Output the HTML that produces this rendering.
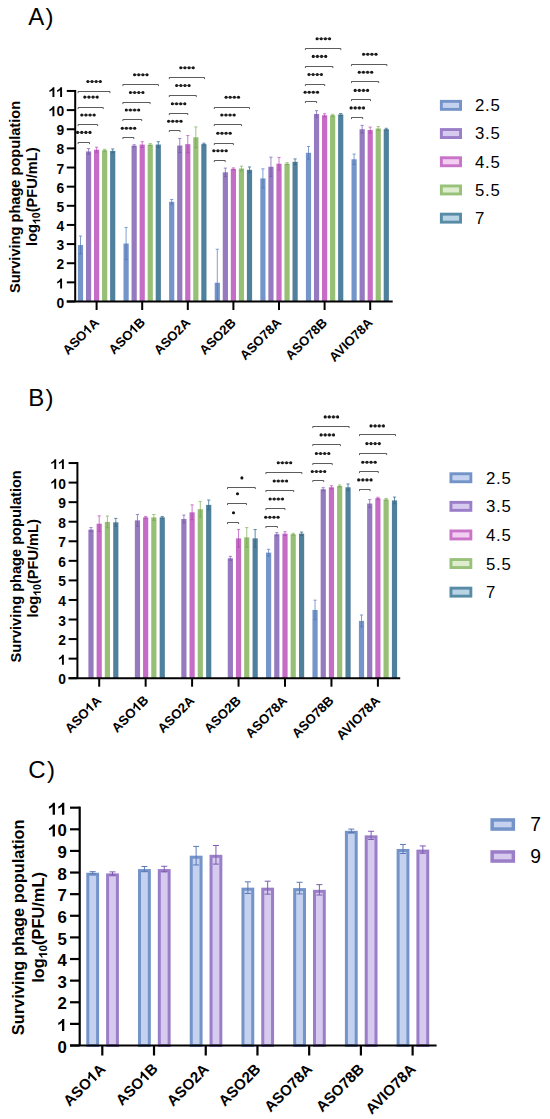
<!DOCTYPE html>
<html><head><meta charset="utf-8"><style>
html,body{margin:0;padding:0;background:#fff;}
svg{display:block;font-family:"Liberation Sans",sans-serif;}
</style></head><body>
<svg width="550" height="1119" viewBox="0 0 550 1119">
<rect width="550" height="1119" fill="#fff"/>
<text x="28.2" y="25.3" font-size="24" letter-spacing="1.4">A)</text>
<text transform="translate(20.2,197) rotate(-90)" text-anchor="middle" font-weight="bold" font-size="14.6">Surviving phage population</text>
<g transform="translate(37,196.7) rotate(-90)">
<text x="-49.23" y="0" font-weight="bold" font-size="14.6">log</text>
<path transform="translate(-27.34,3.21) scale(0.01051,-0.01051)" d="M401 0L401 716L288 716C270 668 236 622 184 578C135 537 88 508 42 490L42 363C128 395 199 437 262 490L262 0Z"/>
<text x="-21.49" y="3.21" font-weight="bold" font-size="10.51">0</text>
<text x="-15.65" y="0" font-weight="bold" font-size="14.6">(PFU/mL)</text>
</g>
<rect x="77.9" y="245.04" width="5.2" height="56.46" fill="#7395c9"/>
<path d="M80.5 236.04V245.04M78.9 236.04H82.1" stroke="#7395c9" stroke-width="0.9" fill="none"/>
<path d="M80.5 245.04V254.03M78.9 254.03H82.1" stroke="#5b79b8" stroke-width="0.9" fill="none"/>
<rect x="85.95" y="151.44" width="5.2" height="150.06" fill="#957abf"/>
<path d="M88.55 148.57V151.44M86.95 148.57H90.15" stroke="#957abf" stroke-width="0.9" fill="none"/>
<path d="M88.55 151.44V154.31M86.95 154.31H90.15" stroke="#7d5cb0" stroke-width="0.9" fill="none"/>
<rect x="94" y="149.72" width="5.2" height="151.78" fill="#c56dc6"/>
<path d="M96.6 147.23V149.72M95 147.23H98.2" stroke="#c56dc6" stroke-width="0.9" fill="none"/>
<path d="M96.6 149.72V152.21M95 152.21H98.2" stroke="#b04db3" stroke-width="0.9" fill="none"/>
<rect x="102.05" y="150.29" width="5.2" height="151.21" fill="#97c076"/>
<path d="M104.65 149.34V150.29M103.05 149.34H106.25" stroke="#97c076" stroke-width="0.9" fill="none"/>
<path d="M104.65 150.29V151.25M103.05 151.25H106.25" stroke="#7aa85a" stroke-width="0.9" fill="none"/>
<rect x="110.1" y="150.87" width="5.2" height="150.63" fill="#50819c"/>
<path d="M112.7 148.95V150.87M111.1 148.95H114.3" stroke="#50819c" stroke-width="0.9" fill="none"/>
<path d="M112.7 150.87V152.78M111.1 152.78H114.3" stroke="#3d6a87" stroke-width="0.9" fill="none"/>
<rect x="123.5" y="243.51" width="5.2" height="57.99" fill="#7395c9"/>
<path d="M126.1 227.43V243.51M124.5 227.43H127.7" stroke="#7395c9" stroke-width="0.9" fill="none"/>
<path d="M126.1 243.51V259.58M124.5 259.58H127.7" stroke="#5b79b8" stroke-width="0.9" fill="none"/>
<rect x="131.55" y="145.7" width="5.2" height="155.8" fill="#957abf"/>
<path d="M134.15 144.74V145.7M132.55 144.74H135.75" stroke="#957abf" stroke-width="0.9" fill="none"/>
<path d="M134.15 145.7V146.66M132.55 146.66H135.75" stroke="#7d5cb0" stroke-width="0.9" fill="none"/>
<rect x="139.6" y="144.55" width="5.2" height="156.95" fill="#c56dc6"/>
<path d="M142.2 141.68V144.55M140.6 141.68H143.8" stroke="#c56dc6" stroke-width="0.9" fill="none"/>
<path d="M142.2 144.55V147.42M140.6 147.42H143.8" stroke="#b04db3" stroke-width="0.9" fill="none"/>
<rect x="147.65" y="144.55" width="5.2" height="156.95" fill="#97c076"/>
<path d="M150.25 143.6V144.55M148.65 143.6H151.85" stroke="#97c076" stroke-width="0.9" fill="none"/>
<path d="M150.25 144.55V145.51M148.65 145.51H151.85" stroke="#7aa85a" stroke-width="0.9" fill="none"/>
<rect x="155.7" y="144.55" width="5.2" height="156.95" fill="#50819c"/>
<path d="M158.3 141.68V144.55M156.7 141.68H159.9" stroke="#50819c" stroke-width="0.9" fill="none"/>
<path d="M158.3 144.55V147.42M156.7 147.42H159.9" stroke="#3d6a87" stroke-width="0.9" fill="none"/>
<rect x="169.1" y="201.78" width="5.2" height="99.72" fill="#7395c9"/>
<path d="M171.7 199.48V201.78M170.1 199.48H173.3" stroke="#7395c9" stroke-width="0.9" fill="none"/>
<path d="M171.7 201.78V204.08M170.1 204.08H173.3" stroke="#5b79b8" stroke-width="0.9" fill="none"/>
<rect x="177.15" y="145.51" width="5.2" height="155.99" fill="#957abf"/>
<path d="M179.75 138.43V145.51M178.15 138.43H181.35" stroke="#957abf" stroke-width="0.9" fill="none"/>
<path d="M179.75 145.51V152.59M178.15 152.59H181.35" stroke="#7d5cb0" stroke-width="0.9" fill="none"/>
<rect x="185.2" y="144.17" width="5.2" height="157.33" fill="#c56dc6"/>
<path d="M187.8 135.56V144.17M186.2 135.56H189.4" stroke="#c56dc6" stroke-width="0.9" fill="none"/>
<path d="M187.8 144.17V152.78M186.2 152.78H189.4" stroke="#b04db3" stroke-width="0.9" fill="none"/>
<rect x="193.25" y="137.28" width="5.2" height="164.22" fill="#97c076"/>
<path d="M195.85 126.94V137.28M194.25 126.94H197.45" stroke="#97c076" stroke-width="0.9" fill="none"/>
<path d="M195.85 137.28V147.61M194.25 147.61H197.45" stroke="#7aa85a" stroke-width="0.9" fill="none"/>
<rect x="201.3" y="144.17" width="5.2" height="157.33" fill="#50819c"/>
<path d="M203.9 143.21V144.17M202.3 143.21H205.5" stroke="#50819c" stroke-width="0.9" fill="none"/>
<path d="M203.9 144.17V145.13M202.3 145.13H205.5" stroke="#3d6a87" stroke-width="0.9" fill="none"/>
<rect x="214.7" y="282.74" width="5.2" height="18.76" fill="#7395c9"/>
<path d="M217.3 249.25V282.74M215.7 249.25H218.9" stroke="#7395c9" stroke-width="0.9" fill="none"/>
<path d="M217.3 282.74V300.5M215.7 300.5H218.9" stroke="#5b79b8" stroke-width="0.9" fill="none"/>
<rect x="222.75" y="172.31" width="5.2" height="129.19" fill="#957abf"/>
<path d="M225.35 168.09V172.31M223.75 168.09H226.95" stroke="#957abf" stroke-width="0.9" fill="none"/>
<path d="M225.35 172.31V176.52M223.75 176.52H226.95" stroke="#7d5cb0" stroke-width="0.9" fill="none"/>
<rect x="230.8" y="168.86" width="5.2" height="132.64" fill="#c56dc6"/>
<path d="M233.4 167.9V168.86M231.8 167.9H235" stroke="#c56dc6" stroke-width="0.9" fill="none"/>
<path d="M233.4 168.86V169.82M231.8 169.82H235" stroke="#b04db3" stroke-width="0.9" fill="none"/>
<rect x="238.85" y="168.48" width="5.2" height="133.02" fill="#97c076"/>
<path d="M241.45 166.18V168.48M239.85 166.18H243.05" stroke="#97c076" stroke-width="0.9" fill="none"/>
<path d="M241.45 168.48V170.77M239.85 170.77H243.05" stroke="#7aa85a" stroke-width="0.9" fill="none"/>
<rect x="246.9" y="169.82" width="5.2" height="131.68" fill="#50819c"/>
<path d="M249.5 166.95V169.82M247.9 166.95H251.1" stroke="#50819c" stroke-width="0.9" fill="none"/>
<path d="M249.5 169.82V172.69M247.9 172.69H251.1" stroke="#3d6a87" stroke-width="0.9" fill="none"/>
<rect x="260.3" y="178.43" width="5.2" height="123.07" fill="#7395c9"/>
<path d="M262.9 168.86V178.43M261.3 168.86H264.5" stroke="#7395c9" stroke-width="0.9" fill="none"/>
<path d="M262.9 178.43V188M261.3 188H264.5" stroke="#5b79b8" stroke-width="0.9" fill="none"/>
<rect x="268.35" y="166.75" width="5.2" height="134.75" fill="#957abf"/>
<path d="M270.95 157.18V166.75M269.35 157.18H272.55" stroke="#957abf" stroke-width="0.9" fill="none"/>
<path d="M270.95 166.75V176.32M269.35 176.32H272.55" stroke="#7d5cb0" stroke-width="0.9" fill="none"/>
<rect x="276.4" y="163.69" width="5.2" height="137.81" fill="#c56dc6"/>
<path d="M279 157.38V163.69M277.4 157.38H280.6" stroke="#c56dc6" stroke-width="0.9" fill="none"/>
<path d="M279 163.69V170.01M277.4 170.01H280.6" stroke="#b04db3" stroke-width="0.9" fill="none"/>
<rect x="284.45" y="163.69" width="5.2" height="137.81" fill="#97c076"/>
<path d="M287.05 162.73V163.69M285.45 162.73H288.65" stroke="#97c076" stroke-width="0.9" fill="none"/>
<path d="M287.05 163.69V164.65M285.45 164.65H288.65" stroke="#7aa85a" stroke-width="0.9" fill="none"/>
<rect x="292.5" y="161.78" width="5.2" height="139.72" fill="#50819c"/>
<path d="M295.1 158.91V161.78M293.5 158.91H296.7" stroke="#50819c" stroke-width="0.9" fill="none"/>
<path d="M295.1 161.78V164.65M293.5 164.65H296.7" stroke="#3d6a87" stroke-width="0.9" fill="none"/>
<rect x="305.9" y="152.78" width="5.2" height="148.72" fill="#7395c9"/>
<path d="M308.5 146.47V152.78M306.9 146.47H310.1" stroke="#7395c9" stroke-width="0.9" fill="none"/>
<path d="M308.5 152.78V159.1M306.9 159.1H310.1" stroke="#5b79b8" stroke-width="0.9" fill="none"/>
<rect x="313.95" y="113.93" width="5.2" height="187.57" fill="#957abf"/>
<path d="M316.55 110.67V113.93M314.95 110.67H318.15" stroke="#957abf" stroke-width="0.9" fill="none"/>
<path d="M316.55 113.93V117.18M314.95 117.18H318.15" stroke="#7d5cb0" stroke-width="0.9" fill="none"/>
<rect x="322" y="115.27" width="5.2" height="186.23" fill="#c56dc6"/>
<path d="M324.6 113.74V115.27M323 113.74H326.2" stroke="#c56dc6" stroke-width="0.9" fill="none"/>
<path d="M324.6 115.27V116.8M323 116.8H326.2" stroke="#b04db3" stroke-width="0.9" fill="none"/>
<rect x="330.05" y="115.27" width="5.2" height="186.23" fill="#97c076"/>
<path d="M332.65 114.31V115.27M331.05 114.31H334.25" stroke="#97c076" stroke-width="0.9" fill="none"/>
<path d="M332.65 115.27V116.22M331.05 116.22H334.25" stroke="#7aa85a" stroke-width="0.9" fill="none"/>
<rect x="338.1" y="114.5" width="5.2" height="187" fill="#50819c"/>
<path d="M340.7 113.55V114.5M339.1 113.55H342.3" stroke="#50819c" stroke-width="0.9" fill="none"/>
<path d="M340.7 114.5V115.46M339.1 115.46H342.3" stroke="#3d6a87" stroke-width="0.9" fill="none"/>
<rect x="351.5" y="159.29" width="5.2" height="142.21" fill="#7395c9"/>
<path d="M354.1 154.12V159.29M352.5 154.12H355.7" stroke="#7395c9" stroke-width="0.9" fill="none"/>
<path d="M354.1 159.29V164.46M352.5 164.46H355.7" stroke="#5b79b8" stroke-width="0.9" fill="none"/>
<rect x="359.55" y="129.24" width="5.2" height="172.26" fill="#957abf"/>
<path d="M362.15 125.41V129.24M360.55 125.41H363.75" stroke="#957abf" stroke-width="0.9" fill="none"/>
<path d="M362.15 129.24V133.07M360.55 133.07H363.75" stroke="#7d5cb0" stroke-width="0.9" fill="none"/>
<rect x="367.6" y="130.01" width="5.2" height="171.49" fill="#c56dc6"/>
<path d="M370.2 127.13V130.01M368.6 127.13H371.8" stroke="#c56dc6" stroke-width="0.9" fill="none"/>
<path d="M370.2 130.01V132.88M368.6 132.88H371.8" stroke="#b04db3" stroke-width="0.9" fill="none"/>
<rect x="375.65" y="128.47" width="5.2" height="173.03" fill="#97c076"/>
<path d="M378.25 126.56V128.47M376.65 126.56H379.85" stroke="#97c076" stroke-width="0.9" fill="none"/>
<path d="M378.25 128.47V130.39M376.65 130.39H379.85" stroke="#7aa85a" stroke-width="0.9" fill="none"/>
<rect x="383.7" y="129.24" width="5.2" height="172.26" fill="#50819c"/>
<path d="M386.3 128.28V129.24M384.7 128.28H387.9" stroke="#50819c" stroke-width="0.9" fill="none"/>
<path d="M386.3 129.24V130.2M384.7 130.2H387.9" stroke="#3d6a87" stroke-width="0.9" fill="none"/>
<line x1="75.2" y1="89.96" x2="75.2" y2="301.5" stroke="#000" stroke-width="2.0"/>
<line x1="66.8" y1="301.5" x2="392.7" y2="301.5" stroke="#000" stroke-width="2.0"/>
<line x1="66.8" y1="301.5" x2="75.2" y2="301.5" stroke="#000" stroke-width="2.0"/>
<text x="56.53" y="307.57" font-weight="bold" font-size="13.8">0</text>
<line x1="66.8" y1="282.36" x2="75.2" y2="282.36" stroke="#000" stroke-width="2.0"/>
<path transform="translate(56.53,288.43) scale(0.01380,-0.01380)" d="M401 0L401 716L288 716C270 668 236 622 184 578C135 537 88 508 42 490L42 363C128 395 199 437 262 490L262 0Z"/>
<line x1="66.8" y1="263.22" x2="75.2" y2="263.22" stroke="#000" stroke-width="2.0"/>
<text x="56.53" y="269.29" font-weight="bold" font-size="13.8">2</text>
<line x1="66.8" y1="244.08" x2="75.2" y2="244.08" stroke="#000" stroke-width="2.0"/>
<text x="56.53" y="250.15" font-weight="bold" font-size="13.8">3</text>
<line x1="66.8" y1="224.94" x2="75.2" y2="224.94" stroke="#000" stroke-width="2.0"/>
<text x="56.53" y="231.01" font-weight="bold" font-size="13.8">4</text>
<line x1="66.8" y1="205.8" x2="75.2" y2="205.8" stroke="#000" stroke-width="2.0"/>
<text x="56.53" y="211.87" font-weight="bold" font-size="13.8">5</text>
<line x1="66.8" y1="186.66" x2="75.2" y2="186.66" stroke="#000" stroke-width="2.0"/>
<text x="56.53" y="192.73" font-weight="bold" font-size="13.8">6</text>
<line x1="66.8" y1="167.52" x2="75.2" y2="167.52" stroke="#000" stroke-width="2.0"/>
<text x="56.53" y="173.59" font-weight="bold" font-size="13.8">7</text>
<line x1="66.8" y1="148.38" x2="75.2" y2="148.38" stroke="#000" stroke-width="2.0"/>
<text x="56.53" y="154.45" font-weight="bold" font-size="13.8">8</text>
<line x1="66.8" y1="129.24" x2="75.2" y2="129.24" stroke="#000" stroke-width="2.0"/>
<text x="56.53" y="135.31" font-weight="bold" font-size="13.8">9</text>
<line x1="66.8" y1="110.1" x2="75.2" y2="110.1" stroke="#000" stroke-width="2.0"/>
<path transform="translate(48.85,116.17) scale(0.01380,-0.01380)" d="M401 0L401 716L288 716C270 668 236 622 184 578C135 537 88 508 42 490L42 363C128 395 199 437 262 490L262 0Z"/>
<text x="56.53" y="116.17" font-weight="bold" font-size="13.8">0</text>
<line x1="66.8" y1="90.96" x2="75.2" y2="90.96" stroke="#000" stroke-width="2.0"/>
<path transform="translate(48.85,97.03) scale(0.01380,-0.01380)" d="M401 0L401 716L288 716C270 668 236 622 184 578C135 537 88 508 42 490L42 363C128 395 199 437 262 490L262 0Z"/>
<path transform="translate(56.53,97.03) scale(0.01380,-0.01380)" d="M401 0L401 716L288 716C270 668 236 622 184 578C135 537 88 508 42 490L42 363C128 395 199 437 262 490L262 0Z"/>
<line x1="96.6" y1="301.5" x2="96.6" y2="310" stroke="#000" stroke-width="2.0"/>
<g transform="translate(99.9,323.6) rotate(-45)">
<text x="-45.13" y="0" font-weight="bold" font-size="13.1">ASO</text>
<path transform="translate(-16.74,0) scale(0.01310,-0.01310)" d="M401 0L401 716L288 716C270 668 236 622 184 578C135 537 88 508 42 490L42 363C128 395 199 437 262 490L262 0Z"/>
<text x="-9.46" y="0" font-weight="bold" font-size="13.1">A</text>
</g>
<line x1="142.2" y1="301.5" x2="142.2" y2="310" stroke="#000" stroke-width="2.0"/>
<g transform="translate(145.5,323.6) rotate(-45)">
<text x="-44.41" y="0" font-weight="bold" font-size="13.1">ASO</text>
<path transform="translate(-16.02,0) scale(0.01310,-0.01310)" d="M401 0L401 716L288 716C270 668 236 622 184 578C135 537 88 508 42 490L42 363C128 395 199 437 262 490L262 0Z"/>
<text x="-8.74" y="0" font-weight="bold" font-size="13.1">B</text>
</g>
<line x1="187.8" y1="301.5" x2="187.8" y2="310" stroke="#000" stroke-width="2.0"/>
<text transform="translate(191.1,323.6) rotate(-45)" text-anchor="end" font-weight="bold" font-size="13.1">ASO2A</text>
<line x1="233.4" y1="301.5" x2="233.4" y2="310" stroke="#000" stroke-width="2.0"/>
<text transform="translate(236.7,323.6) rotate(-45)" text-anchor="end" font-weight="bold" font-size="13.1">ASO2B</text>
<line x1="279" y1="301.5" x2="279" y2="310" stroke="#000" stroke-width="2.0"/>
<text transform="translate(282.3,323.6) rotate(-45)" text-anchor="end" font-weight="bold" font-size="13.1">ASO78A</text>
<line x1="324.6" y1="301.5" x2="324.6" y2="310" stroke="#000" stroke-width="2.0"/>
<text transform="translate(327.9,323.6) rotate(-45)" text-anchor="end" font-weight="bold" font-size="13.1">ASO78B</text>
<line x1="370.2" y1="301.5" x2="370.2" y2="310" stroke="#000" stroke-width="2.0"/>
<text transform="translate(373.5,323.6) rotate(-45)" text-anchor="end" font-weight="bold" font-size="13.1">AVIO78A</text>
<path d="M78.1 144.1V142.5H89.5V144.1" stroke="#4a4a4a" stroke-width="0.9" fill="none"/>
<circle cx="77.58" cy="132.4" r="1.55" fill="#111"/>
<circle cx="81.72" cy="132.4" r="1.55" fill="#111"/>
<circle cx="85.88" cy="132.4" r="1.55" fill="#111"/>
<circle cx="90.02" cy="132.4" r="1.55" fill="#111"/>
<line x1="77.58" y1="132.4" x2="90.02" y2="132.4" stroke="#333" stroke-width="0.7"/>
<path d="M78.1 126.1V124.5H97.6V126.1" stroke="#4a4a4a" stroke-width="0.9" fill="none"/>
<circle cx="81.78" cy="115" r="1.55" fill="#111"/>
<circle cx="85.92" cy="115" r="1.55" fill="#111"/>
<circle cx="90.08" cy="115" r="1.55" fill="#111"/>
<circle cx="94.22" cy="115" r="1.55" fill="#111"/>
<line x1="81.78" y1="115" x2="94.22" y2="115" stroke="#333" stroke-width="0.7"/>
<path d="M78.1 109.1V107.5H103.2V109.1" stroke="#4a4a4a" stroke-width="0.9" fill="none"/>
<circle cx="84.78" cy="97.1" r="1.55" fill="#111"/>
<circle cx="88.92" cy="97.1" r="1.55" fill="#111"/>
<circle cx="93.08" cy="97.1" r="1.55" fill="#111"/>
<circle cx="97.22" cy="97.1" r="1.55" fill="#111"/>
<line x1="84.78" y1="97.1" x2="97.22" y2="97.1" stroke="#333" stroke-width="0.7"/>
<path d="M78.1 93.1V91.5H110V93.1" stroke="#4a4a4a" stroke-width="0.9" fill="none"/>
<circle cx="87.88" cy="81.5" r="1.55" fill="#111"/>
<circle cx="92.02" cy="81.5" r="1.55" fill="#111"/>
<circle cx="96.17" cy="81.5" r="1.55" fill="#111"/>
<circle cx="100.32" cy="81.5" r="1.55" fill="#111"/>
<line x1="87.88" y1="81.5" x2="100.32" y2="81.5" stroke="#333" stroke-width="0.7"/>
<path d="M122.9 139.1V137.5H133.8V139.1" stroke="#4a4a4a" stroke-width="0.9" fill="none"/>
<circle cx="122.28" cy="128.2" r="1.55" fill="#111"/>
<circle cx="126.42" cy="128.2" r="1.55" fill="#111"/>
<circle cx="130.57" cy="128.2" r="1.55" fill="#111"/>
<circle cx="134.72" cy="128.2" r="1.55" fill="#111"/>
<line x1="122.28" y1="128.2" x2="134.72" y2="128.2" stroke="#333" stroke-width="0.7"/>
<path d="M122.9 121.1V119.5H141.7V121.1" stroke="#4a4a4a" stroke-width="0.9" fill="none"/>
<circle cx="126.28" cy="110" r="1.55" fill="#111"/>
<circle cx="130.43" cy="110" r="1.55" fill="#111"/>
<circle cx="134.57" cy="110" r="1.55" fill="#111"/>
<circle cx="138.72" cy="110" r="1.55" fill="#111"/>
<line x1="126.28" y1="110" x2="138.72" y2="110" stroke="#333" stroke-width="0.7"/>
<path d="M122.9 104.1V102.5H150.1V104.1" stroke="#4a4a4a" stroke-width="0.9" fill="none"/>
<circle cx="130.47" cy="92.5" r="1.55" fill="#111"/>
<circle cx="134.62" cy="92.5" r="1.55" fill="#111"/>
<circle cx="138.77" cy="92.5" r="1.55" fill="#111"/>
<circle cx="142.92" cy="92.5" r="1.55" fill="#111"/>
<line x1="130.47" y1="92.5" x2="142.92" y2="92.5" stroke="#333" stroke-width="0.7"/>
<path d="M122.9 86.1V84.5H158.4V86.1" stroke="#4a4a4a" stroke-width="0.9" fill="none"/>
<circle cx="134.58" cy="74.7" r="1.55" fill="#111"/>
<circle cx="138.73" cy="74.7" r="1.55" fill="#111"/>
<circle cx="142.88" cy="74.7" r="1.55" fill="#111"/>
<circle cx="147.03" cy="74.7" r="1.55" fill="#111"/>
<line x1="134.58" y1="74.7" x2="147.03" y2="74.7" stroke="#333" stroke-width="0.7"/>
<path d="M169.3 132.1V130.5H180V132.1" stroke="#4a4a4a" stroke-width="0.9" fill="none"/>
<circle cx="168.58" cy="121.2" r="1.55" fill="#111"/>
<circle cx="172.73" cy="121.2" r="1.55" fill="#111"/>
<circle cx="176.88" cy="121.2" r="1.55" fill="#111"/>
<circle cx="181.03" cy="121.2" r="1.55" fill="#111"/>
<line x1="168.58" y1="121.2" x2="181.03" y2="121.2" stroke="#333" stroke-width="0.7"/>
<path d="M169.3 115.1V113.5H187.8V115.1" stroke="#4a4a4a" stroke-width="0.9" fill="none"/>
<circle cx="172.38" cy="103.8" r="1.55" fill="#111"/>
<circle cx="176.53" cy="103.8" r="1.55" fill="#111"/>
<circle cx="180.67" cy="103.8" r="1.55" fill="#111"/>
<circle cx="184.82" cy="103.8" r="1.55" fill="#111"/>
<line x1="172.38" y1="103.8" x2="184.82" y2="103.8" stroke="#333" stroke-width="0.7"/>
<path d="M169.3 97.1V95.5H196.3V97.1" stroke="#4a4a4a" stroke-width="0.9" fill="none"/>
<circle cx="176.68" cy="85.5" r="1.55" fill="#111"/>
<circle cx="180.83" cy="85.5" r="1.55" fill="#111"/>
<circle cx="184.97" cy="85.5" r="1.55" fill="#111"/>
<circle cx="189.12" cy="85.5" r="1.55" fill="#111"/>
<line x1="176.68" y1="85.5" x2="189.12" y2="85.5" stroke="#333" stroke-width="0.7"/>
<path d="M169.3 79.1V77.5H204.5V79.1" stroke="#4a4a4a" stroke-width="0.9" fill="none"/>
<circle cx="180.78" cy="67.7" r="1.55" fill="#111"/>
<circle cx="184.93" cy="67.7" r="1.55" fill="#111"/>
<circle cx="189.07" cy="67.7" r="1.55" fill="#111"/>
<circle cx="193.22" cy="67.7" r="1.55" fill="#111"/>
<line x1="180.78" y1="67.7" x2="193.22" y2="67.7" stroke="#333" stroke-width="0.7"/>
<path d="M214.3 162.1V160.5H225.2V162.1" stroke="#4a4a4a" stroke-width="0.9" fill="none"/>
<circle cx="213.78" cy="150.7" r="1.55" fill="#111"/>
<circle cx="217.93" cy="150.7" r="1.55" fill="#111"/>
<circle cx="222.07" cy="150.7" r="1.55" fill="#111"/>
<circle cx="226.22" cy="150.7" r="1.55" fill="#111"/>
<line x1="213.78" y1="150.7" x2="226.22" y2="150.7" stroke="#333" stroke-width="0.7"/>
<path d="M214.3 145.1V143.5H233.4V145.1" stroke="#4a4a4a" stroke-width="0.9" fill="none"/>
<circle cx="217.78" cy="133.2" r="1.55" fill="#111"/>
<circle cx="221.93" cy="133.2" r="1.55" fill="#111"/>
<circle cx="226.07" cy="133.2" r="1.55" fill="#111"/>
<circle cx="230.22" cy="133.2" r="1.55" fill="#111"/>
<line x1="217.78" y1="133.2" x2="230.22" y2="133.2" stroke="#333" stroke-width="0.7"/>
<path d="M214.3 126.1V124.5H241.5V126.1" stroke="#4a4a4a" stroke-width="0.9" fill="none"/>
<circle cx="221.78" cy="115" r="1.55" fill="#111"/>
<circle cx="225.93" cy="115" r="1.55" fill="#111"/>
<circle cx="230.07" cy="115" r="1.55" fill="#111"/>
<circle cx="234.22" cy="115" r="1.55" fill="#111"/>
<line x1="221.78" y1="115" x2="234.22" y2="115" stroke="#333" stroke-width="0.7"/>
<path d="M214.3 109.1V107.5H249.5V109.1" stroke="#4a4a4a" stroke-width="0.9" fill="none"/>
<circle cx="226.08" cy="97.3" r="1.55" fill="#111"/>
<circle cx="230.23" cy="97.3" r="1.55" fill="#111"/>
<circle cx="234.38" cy="97.3" r="1.55" fill="#111"/>
<circle cx="238.53" cy="97.3" r="1.55" fill="#111"/>
<line x1="226.08" y1="97.3" x2="238.53" y2="97.3" stroke="#333" stroke-width="0.7"/>
<path d="M305.4 103.1V101.5H316.6V103.1" stroke="#4a4a4a" stroke-width="0.9" fill="none"/>
<circle cx="305.07" cy="92.2" r="1.55" fill="#111"/>
<circle cx="309.23" cy="92.2" r="1.55" fill="#111"/>
<circle cx="313.38" cy="92.2" r="1.55" fill="#111"/>
<circle cx="317.53" cy="92.2" r="1.55" fill="#111"/>
<line x1="305.07" y1="92.2" x2="317.53" y2="92.2" stroke="#333" stroke-width="0.7"/>
<path d="M305.4 86.1V84.5H324.7V86.1" stroke="#4a4a4a" stroke-width="0.9" fill="none"/>
<circle cx="308.97" cy="74.5" r="1.55" fill="#111"/>
<circle cx="313.12" cy="74.5" r="1.55" fill="#111"/>
<circle cx="317.27" cy="74.5" r="1.55" fill="#111"/>
<circle cx="321.43" cy="74.5" r="1.55" fill="#111"/>
<line x1="308.97" y1="74.5" x2="321.43" y2="74.5" stroke="#333" stroke-width="0.7"/>
<path d="M305.4 68.1V66.5H332.9V68.1" stroke="#4a4a4a" stroke-width="0.9" fill="none"/>
<circle cx="313.27" cy="56.4" r="1.55" fill="#111"/>
<circle cx="317.43" cy="56.4" r="1.55" fill="#111"/>
<circle cx="321.57" cy="56.4" r="1.55" fill="#111"/>
<circle cx="325.73" cy="56.4" r="1.55" fill="#111"/>
<line x1="313.27" y1="56.4" x2="325.73" y2="56.4" stroke="#333" stroke-width="0.7"/>
<path d="M305.4 50.1V48.5H340.8V50.1" stroke="#4a4a4a" stroke-width="0.9" fill="none"/>
<circle cx="317.07" cy="38.7" r="1.55" fill="#111"/>
<circle cx="321.23" cy="38.7" r="1.55" fill="#111"/>
<circle cx="325.38" cy="38.7" r="1.55" fill="#111"/>
<circle cx="329.53" cy="38.7" r="1.55" fill="#111"/>
<line x1="317.07" y1="38.7" x2="329.53" y2="38.7" stroke="#333" stroke-width="0.7"/>
<path d="M351.5 119.1V117.5H362.7V119.1" stroke="#4a4a4a" stroke-width="0.9" fill="none"/>
<circle cx="351.07" cy="107.9" r="1.55" fill="#111"/>
<circle cx="355.23" cy="107.9" r="1.55" fill="#111"/>
<circle cx="359.38" cy="107.9" r="1.55" fill="#111"/>
<circle cx="363.53" cy="107.9" r="1.55" fill="#111"/>
<line x1="351.07" y1="107.9" x2="363.53" y2="107.9" stroke="#333" stroke-width="0.7"/>
<path d="M351.5 101.1V99.5H370.5V101.1" stroke="#4a4a4a" stroke-width="0.9" fill="none"/>
<circle cx="355.17" cy="90.4" r="1.55" fill="#111"/>
<circle cx="359.32" cy="90.4" r="1.55" fill="#111"/>
<circle cx="363.47" cy="90.4" r="1.55" fill="#111"/>
<circle cx="367.62" cy="90.4" r="1.55" fill="#111"/>
<line x1="355.17" y1="90.4" x2="367.62" y2="90.4" stroke="#333" stroke-width="0.7"/>
<path d="M351.5 83.1V81.5H378.7V83.1" stroke="#4a4a4a" stroke-width="0.9" fill="none"/>
<circle cx="359.27" cy="72.2" r="1.55" fill="#111"/>
<circle cx="363.43" cy="72.2" r="1.55" fill="#111"/>
<circle cx="367.57" cy="72.2" r="1.55" fill="#111"/>
<circle cx="371.73" cy="72.2" r="1.55" fill="#111"/>
<line x1="359.27" y1="72.2" x2="371.73" y2="72.2" stroke="#333" stroke-width="0.7"/>
<path d="M351.5 66.1V64.5H386.9V66.1" stroke="#4a4a4a" stroke-width="0.9" fill="none"/>
<circle cx="363.57" cy="54.2" r="1.55" fill="#111"/>
<circle cx="367.73" cy="54.2" r="1.55" fill="#111"/>
<circle cx="371.88" cy="54.2" r="1.55" fill="#111"/>
<circle cx="376.03" cy="54.2" r="1.55" fill="#111"/>
<line x1="363.57" y1="54.2" x2="376.03" y2="54.2" stroke="#333" stroke-width="0.7"/>
<rect x="441.35" y="101.35" width="19.2" height="8" fill="#c4d2ef" stroke="#7393c9" stroke-width="2.9"/>
<text x="475" y="111.2" font-size="16.8" letter-spacing="0.7">2.5</text>
<rect x="441.35" y="129.55" width="19.2" height="8" fill="#d6caef" stroke="#9a7ec8" stroke-width="2.9"/>
<text x="475" y="139.4" font-size="16.8" letter-spacing="0.7">3.5</text>
<rect x="441.35" y="157.75" width="19.2" height="8" fill="#f3cef3" stroke="#c974c9" stroke-width="2.9"/>
<text x="475" y="167.6" font-size="16.8" letter-spacing="0.7">4.5</text>
<rect x="441.35" y="185.95" width="19.2" height="8" fill="#ddedcd" stroke="#98c179" stroke-width="2.9"/>
<text x="475" y="195.8" font-size="16.8" letter-spacing="0.7">5.5</text>
<rect x="441.35" y="214.15" width="19.2" height="8" fill="#b9d5e5" stroke="#578ba6" stroke-width="2.9"/>
<text x="475" y="224" font-size="16.8" letter-spacing="0.7">7</text>
<text x="28.2" y="405.8" font-size="24" letter-spacing="1.4">B)</text>
<text transform="translate(20.8,566.3) rotate(-90)" text-anchor="middle" font-weight="bold" font-size="14.6">Surviving phage population</text>
<g transform="translate(37.6,568.4) rotate(-90)">
<text x="-49.23" y="0" font-weight="bold" font-size="14.6">log</text>
<path transform="translate(-27.34,3.21) scale(0.01051,-0.01051)" d="M401 0L401 716L288 716C270 668 236 622 184 578C135 537 88 508 42 490L42 363C128 395 199 437 262 490L262 0Z"/>
<text x="-21.49" y="3.21" font-weight="bold" font-size="10.51">0</text>
<text x="-15.65" y="0" font-weight="bold" font-size="14.6">(PFU/mL)</text>
</g>
<rect x="88.4" y="529.54" width="5.2" height="148.66" fill="#957abf"/>
<path d="M91 527.59V529.54M89.4 527.59H92.6" stroke="#957abf" stroke-width="0.9" fill="none"/>
<path d="M91 529.54V531.5M89.4 531.5H92.6" stroke="#7d5cb0" stroke-width="0.9" fill="none"/>
<rect x="96.6" y="523.68" width="5.2" height="154.52" fill="#c56dc6"/>
<path d="M99.2 515.85V523.68M97.6 515.85H100.8" stroke="#c56dc6" stroke-width="0.9" fill="none"/>
<path d="M99.2 523.68V531.5M97.6 531.5H100.8" stroke="#b04db3" stroke-width="0.9" fill="none"/>
<rect x="104.8" y="521.92" width="5.2" height="156.28" fill="#97c076"/>
<path d="M107.4 516.05V521.92M105.8 516.05H109" stroke="#97c076" stroke-width="0.9" fill="none"/>
<path d="M107.4 521.92V527.78M105.8 527.78H109" stroke="#7aa85a" stroke-width="0.9" fill="none"/>
<rect x="113.2" y="522.31" width="5.2" height="155.89" fill="#50819c"/>
<path d="M115.8 518.39V522.31M114.2 518.39H117.4" stroke="#50819c" stroke-width="0.9" fill="none"/>
<path d="M115.8 522.31V526.22M114.2 526.22H117.4" stroke="#3d6a87" stroke-width="0.9" fill="none"/>
<rect x="134.85" y="520.35" width="5.2" height="157.85" fill="#957abf"/>
<path d="M137.45 514.48V520.35M135.85 514.48H139.05" stroke="#957abf" stroke-width="0.9" fill="none"/>
<path d="M137.45 520.35V526.22M135.85 526.22H139.05" stroke="#7d5cb0" stroke-width="0.9" fill="none"/>
<rect x="143.05" y="517.42" width="5.2" height="160.78" fill="#c56dc6"/>
<path d="M145.65 516.44V517.42M144.05 516.44H147.25" stroke="#c56dc6" stroke-width="0.9" fill="none"/>
<path d="M145.65 517.42V518.39M144.05 518.39H147.25" stroke="#b04db3" stroke-width="0.9" fill="none"/>
<rect x="151.25" y="517.42" width="5.2" height="160.78" fill="#97c076"/>
<path d="M153.85 514.48V517.42M152.25 514.48H155.45" stroke="#97c076" stroke-width="0.9" fill="none"/>
<path d="M153.85 517.42V520.35M152.25 520.35H155.45" stroke="#7aa85a" stroke-width="0.9" fill="none"/>
<rect x="159.65" y="517.42" width="5.2" height="160.78" fill="#50819c"/>
<path d="M162.25 516.44V517.42M160.65 516.44H163.85" stroke="#50819c" stroke-width="0.9" fill="none"/>
<path d="M162.25 517.42V518.39M160.65 518.39H163.85" stroke="#3d6a87" stroke-width="0.9" fill="none"/>
<rect x="181.3" y="518.98" width="5.2" height="159.22" fill="#957abf"/>
<path d="M183.9 515.07V518.98M182.3 515.07H185.5" stroke="#957abf" stroke-width="0.9" fill="none"/>
<path d="M183.9 518.98V522.89M182.3 522.89H185.5" stroke="#7d5cb0" stroke-width="0.9" fill="none"/>
<rect x="189.5" y="512.33" width="5.2" height="165.87" fill="#c56dc6"/>
<path d="M192.1 504.9V512.33M190.5 504.9H193.7" stroke="#c56dc6" stroke-width="0.9" fill="none"/>
<path d="M192.1 512.33V519.76M190.5 519.76H193.7" stroke="#b04db3" stroke-width="0.9" fill="none"/>
<rect x="197.7" y="509.2" width="5.2" height="169" fill="#97c076"/>
<path d="M200.3 501.38V509.2M198.7 501.38H201.9" stroke="#97c076" stroke-width="0.9" fill="none"/>
<path d="M200.3 509.2V517.03M198.7 517.03H201.9" stroke="#7aa85a" stroke-width="0.9" fill="none"/>
<rect x="206.1" y="504.9" width="5.2" height="173.3" fill="#50819c"/>
<path d="M208.7 500.01V504.9M207.1 500.01H210.3" stroke="#50819c" stroke-width="0.9" fill="none"/>
<path d="M208.7 504.9V509.79M207.1 509.79H210.3" stroke="#3d6a87" stroke-width="0.9" fill="none"/>
<rect x="227.75" y="558.3" width="5.2" height="119.9" fill="#957abf"/>
<path d="M230.35 556.34V558.3M228.75 556.34H231.95" stroke="#957abf" stroke-width="0.9" fill="none"/>
<path d="M230.35 558.3V560.25M228.75 560.25H231.95" stroke="#7d5cb0" stroke-width="0.9" fill="none"/>
<rect x="235.95" y="538.35" width="5.2" height="139.85" fill="#c56dc6"/>
<path d="M238.55 529.54V538.35M236.95 529.54H240.15" stroke="#c56dc6" stroke-width="0.9" fill="none"/>
<path d="M238.55 538.35V547.15M236.95 547.15H240.15" stroke="#b04db3" stroke-width="0.9" fill="none"/>
<rect x="244.15" y="537.37" width="5.2" height="140.83" fill="#97c076"/>
<path d="M246.75 527.59V537.37M245.15 527.59H248.35" stroke="#97c076" stroke-width="0.9" fill="none"/>
<path d="M246.75 537.37V547.15M245.15 547.15H248.35" stroke="#7aa85a" stroke-width="0.9" fill="none"/>
<rect x="252.55" y="538.35" width="5.2" height="139.85" fill="#50819c"/>
<path d="M255.15 529.54V538.35M253.55 529.54H256.75" stroke="#50819c" stroke-width="0.9" fill="none"/>
<path d="M255.15 538.35V547.15M253.55 547.15H256.75" stroke="#3d6a87" stroke-width="0.9" fill="none"/>
<rect x="266" y="552.62" width="5.2" height="125.58" fill="#7395c9"/>
<path d="M268.6 549.3V552.62M267 549.3H270.2" stroke="#7395c9" stroke-width="0.9" fill="none"/>
<path d="M268.6 552.62V555.95M267 555.95H270.2" stroke="#5b79b8" stroke-width="0.9" fill="none"/>
<rect x="274.2" y="534.24" width="5.2" height="143.96" fill="#957abf"/>
<path d="M276.8 532.67V534.24M275.2 532.67H278.4" stroke="#957abf" stroke-width="0.9" fill="none"/>
<path d="M276.8 534.24V535.8M275.2 535.8H278.4" stroke="#7d5cb0" stroke-width="0.9" fill="none"/>
<rect x="282.4" y="533.65" width="5.2" height="144.55" fill="#c56dc6"/>
<path d="M285 531.7V533.65M283.4 531.7H286.6" stroke="#c56dc6" stroke-width="0.9" fill="none"/>
<path d="M285 533.65V535.61M283.4 535.61H286.6" stroke="#b04db3" stroke-width="0.9" fill="none"/>
<rect x="290.6" y="534.24" width="5.2" height="143.96" fill="#97c076"/>
<path d="M293.2 533.26V534.24M291.6 533.26H294.8" stroke="#97c076" stroke-width="0.9" fill="none"/>
<path d="M293.2 534.24V535.22M291.6 535.22H294.8" stroke="#7aa85a" stroke-width="0.9" fill="none"/>
<rect x="299" y="533.65" width="5.2" height="144.55" fill="#50819c"/>
<path d="M301.6 532.09V533.65M300 532.09H303.2" stroke="#50819c" stroke-width="0.9" fill="none"/>
<path d="M301.6 533.65V535.22M300 535.22H303.2" stroke="#3d6a87" stroke-width="0.9" fill="none"/>
<rect x="312.45" y="609.94" width="5.2" height="68.26" fill="#7395c9"/>
<path d="M315.05 600.16V609.94M313.45 600.16H316.65" stroke="#7395c9" stroke-width="0.9" fill="none"/>
<path d="M315.05 609.94V619.72M313.45 619.72H316.65" stroke="#5b79b8" stroke-width="0.9" fill="none"/>
<rect x="320.65" y="489.25" width="5.2" height="188.95" fill="#957abf"/>
<path d="M323.25 487.69V489.25M321.65 487.69H324.85" stroke="#957abf" stroke-width="0.9" fill="none"/>
<path d="M323.25 489.25V490.82M321.65 490.82H324.85" stroke="#7d5cb0" stroke-width="0.9" fill="none"/>
<rect x="328.85" y="487.29" width="5.2" height="190.91" fill="#c56dc6"/>
<path d="M331.45 485.73V487.29M329.85 485.73H333.05" stroke="#c56dc6" stroke-width="0.9" fill="none"/>
<path d="M331.45 487.29V488.86M329.85 488.86H333.05" stroke="#b04db3" stroke-width="0.9" fill="none"/>
<rect x="337.05" y="485.93" width="5.2" height="192.27" fill="#97c076"/>
<path d="M339.65 484.95V485.93M338.05 484.95H341.25" stroke="#97c076" stroke-width="0.9" fill="none"/>
<path d="M339.65 485.93V486.9M338.05 486.9H341.25" stroke="#7aa85a" stroke-width="0.9" fill="none"/>
<rect x="345.45" y="487.29" width="5.2" height="190.91" fill="#50819c"/>
<path d="M348.05 483.97V487.29M346.45 483.97H349.65" stroke="#50819c" stroke-width="0.9" fill="none"/>
<path d="M348.05 487.29V490.62M346.45 490.62H349.65" stroke="#3d6a87" stroke-width="0.9" fill="none"/>
<rect x="358.9" y="620.89" width="5.2" height="57.31" fill="#7395c9"/>
<path d="M361.5 615.02V620.89M359.9 615.02H363.1" stroke="#7395c9" stroke-width="0.9" fill="none"/>
<path d="M361.5 620.89V626.76M359.9 626.76H363.1" stroke="#5b79b8" stroke-width="0.9" fill="none"/>
<rect x="367.1" y="503.53" width="5.2" height="174.67" fill="#957abf"/>
<path d="M369.7 499.62V503.53M368.1 499.62H371.3" stroke="#957abf" stroke-width="0.9" fill="none"/>
<path d="M369.7 503.53V507.44M368.1 507.44H371.3" stroke="#7d5cb0" stroke-width="0.9" fill="none"/>
<rect x="375.3" y="498.25" width="5.2" height="179.95" fill="#c56dc6"/>
<path d="M377.9 497.27V498.25M376.3 497.27H379.5" stroke="#c56dc6" stroke-width="0.9" fill="none"/>
<path d="M377.9 498.25V499.23M376.3 499.23H379.5" stroke="#b04db3" stroke-width="0.9" fill="none"/>
<rect x="383.5" y="499.42" width="5.2" height="178.78" fill="#97c076"/>
<path d="M386.1 498.44V499.42M384.5 498.44H387.7" stroke="#97c076" stroke-width="0.9" fill="none"/>
<path d="M386.1 499.42V500.4M384.5 500.4H387.7" stroke="#7aa85a" stroke-width="0.9" fill="none"/>
<rect x="391.9" y="500.4" width="5.2" height="177.8" fill="#50819c"/>
<path d="M394.5 497.07V500.4M392.9 497.07H396.1" stroke="#50819c" stroke-width="0.9" fill="none"/>
<path d="M394.5 500.4V503.72M392.9 503.72H396.1" stroke="#3d6a87" stroke-width="0.9" fill="none"/>
<line x1="77.4" y1="462.04" x2="77.4" y2="678.2" stroke="#000" stroke-width="2.0"/>
<line x1="68.6" y1="678.2" x2="400.2" y2="678.2" stroke="#000" stroke-width="2.0"/>
<line x1="68.6" y1="678.2" x2="77.4" y2="678.2" stroke="#000" stroke-width="2.0"/>
<text x="58.33" y="684.27" font-weight="bold" font-size="13.8">0</text>
<line x1="68.6" y1="658.64" x2="77.4" y2="658.64" stroke="#000" stroke-width="2.0"/>
<path transform="translate(58.33,664.71) scale(0.01380,-0.01380)" d="M401 0L401 716L288 716C270 668 236 622 184 578C135 537 88 508 42 490L42 363C128 395 199 437 262 490L262 0Z"/>
<line x1="68.6" y1="639.08" x2="77.4" y2="639.08" stroke="#000" stroke-width="2.0"/>
<text x="58.33" y="645.15" font-weight="bold" font-size="13.8">2</text>
<line x1="68.6" y1="619.52" x2="77.4" y2="619.52" stroke="#000" stroke-width="2.0"/>
<text x="58.33" y="625.59" font-weight="bold" font-size="13.8">3</text>
<line x1="68.6" y1="599.96" x2="77.4" y2="599.96" stroke="#000" stroke-width="2.0"/>
<text x="58.33" y="606.03" font-weight="bold" font-size="13.8">4</text>
<line x1="68.6" y1="580.4" x2="77.4" y2="580.4" stroke="#000" stroke-width="2.0"/>
<text x="58.33" y="586.47" font-weight="bold" font-size="13.8">5</text>
<line x1="68.6" y1="560.84" x2="77.4" y2="560.84" stroke="#000" stroke-width="2.0"/>
<text x="58.33" y="566.91" font-weight="bold" font-size="13.8">6</text>
<line x1="68.6" y1="541.28" x2="77.4" y2="541.28" stroke="#000" stroke-width="2.0"/>
<text x="58.33" y="547.35" font-weight="bold" font-size="13.8">7</text>
<line x1="68.6" y1="521.72" x2="77.4" y2="521.72" stroke="#000" stroke-width="2.0"/>
<text x="58.33" y="527.79" font-weight="bold" font-size="13.8">8</text>
<line x1="68.6" y1="502.16" x2="77.4" y2="502.16" stroke="#000" stroke-width="2.0"/>
<text x="58.33" y="508.23" font-weight="bold" font-size="13.8">9</text>
<line x1="68.6" y1="482.6" x2="77.4" y2="482.6" stroke="#000" stroke-width="2.0"/>
<path transform="translate(50.65,488.67) scale(0.01380,-0.01380)" d="M401 0L401 716L288 716C270 668 236 622 184 578C135 537 88 508 42 490L42 363C128 395 199 437 262 490L262 0Z"/>
<text x="58.33" y="488.67" font-weight="bold" font-size="13.8">0</text>
<line x1="68.6" y1="463.04" x2="77.4" y2="463.04" stroke="#000" stroke-width="2.0"/>
<path transform="translate(50.65,469.11) scale(0.01380,-0.01380)" d="M401 0L401 716L288 716C270 668 236 622 184 578C135 537 88 508 42 490L42 363C128 395 199 437 262 490L262 0Z"/>
<path transform="translate(58.33,469.11) scale(0.01380,-0.01380)" d="M401 0L401 716L288 716C270 668 236 622 184 578C135 537 88 508 42 490L42 363C128 395 199 437 262 490L262 0Z"/>
<line x1="99.2" y1="678.2" x2="99.2" y2="686.7" stroke="#000" stroke-width="2.0"/>
<g transform="translate(102.3,701.5) rotate(-45)">
<text x="-45.47" y="0" font-weight="bold" font-size="13.2">ASO</text>
<path transform="translate(-16.87,0) scale(0.01320,-0.01320)" d="M401 0L401 716L288 716C270 668 236 622 184 578C135 537 88 508 42 490L42 363C128 395 199 437 262 490L262 0Z"/>
<text x="-9.53" y="0" font-weight="bold" font-size="13.2">A</text>
</g>
<line x1="145.65" y1="678.2" x2="145.65" y2="686.7" stroke="#000" stroke-width="2.0"/>
<g transform="translate(148.75,701.5) rotate(-45)">
<text x="-44.75" y="0" font-weight="bold" font-size="13.2">ASO</text>
<path transform="translate(-16.14,0) scale(0.01320,-0.01320)" d="M401 0L401 716L288 716C270 668 236 622 184 578C135 537 88 508 42 490L42 363C128 395 199 437 262 490L262 0Z"/>
<text x="-8.8" y="0" font-weight="bold" font-size="13.2">B</text>
</g>
<line x1="192.1" y1="678.2" x2="192.1" y2="686.7" stroke="#000" stroke-width="2.0"/>
<text transform="translate(195.2,701.5) rotate(-45)" text-anchor="end" font-weight="bold" font-size="13.2">ASO2A</text>
<line x1="238.55" y1="678.2" x2="238.55" y2="686.7" stroke="#000" stroke-width="2.0"/>
<text transform="translate(241.65,701.5) rotate(-45)" text-anchor="end" font-weight="bold" font-size="13.2">ASO2B</text>
<line x1="285" y1="678.2" x2="285" y2="686.7" stroke="#000" stroke-width="2.0"/>
<text transform="translate(288.1,701.5) rotate(-45)" text-anchor="end" font-weight="bold" font-size="13.2">ASO78A</text>
<line x1="331.45" y1="678.2" x2="331.45" y2="686.7" stroke="#000" stroke-width="2.0"/>
<text transform="translate(334.55,701.5) rotate(-45)" text-anchor="end" font-weight="bold" font-size="13.2">ASO78B</text>
<line x1="377.9" y1="678.2" x2="377.9" y2="686.7" stroke="#000" stroke-width="2.0"/>
<text transform="translate(381,701.5) rotate(-45)" text-anchor="end" font-weight="bold" font-size="13.2">AVIO78A</text>
<path d="M227.5 524.1V522.5H238.6V524.1" stroke="#4a4a4a" stroke-width="0.9" fill="none"/>
<circle cx="233.5" cy="512.8" r="1.55" fill="#111"/>
<path d="M227.5 505.1V503.5H246.5V505.1" stroke="#4a4a4a" stroke-width="0.9" fill="none"/>
<circle cx="237.5" cy="493.8" r="1.55" fill="#111"/>
<path d="M227.5 489.1V487.5H255.3V489.1" stroke="#4a4a4a" stroke-width="0.9" fill="none"/>
<circle cx="241.9" cy="477.9" r="1.55" fill="#111"/>
<path d="M265.9 528.1V526.5H277.4V528.1" stroke="#4a4a4a" stroke-width="0.9" fill="none"/>
<circle cx="265.67" cy="517.3" r="1.55" fill="#111"/>
<circle cx="269.82" cy="517.3" r="1.55" fill="#111"/>
<circle cx="273.97" cy="517.3" r="1.55" fill="#111"/>
<circle cx="278.12" cy="517.3" r="1.55" fill="#111"/>
<line x1="265.67" y1="517.3" x2="278.12" y2="517.3" stroke="#333" stroke-width="0.7"/>
<path d="M265.9 510.1V508.5H285V510.1" stroke="#4a4a4a" stroke-width="0.9" fill="none"/>
<circle cx="270.07" cy="499" r="1.55" fill="#111"/>
<circle cx="274.23" cy="499" r="1.55" fill="#111"/>
<circle cx="278.38" cy="499" r="1.55" fill="#111"/>
<circle cx="282.53" cy="499" r="1.55" fill="#111"/>
<line x1="270.07" y1="499" x2="282.53" y2="499" stroke="#333" stroke-width="0.7"/>
<path d="M265.9 492.1V490.5H293.7V492.1" stroke="#4a4a4a" stroke-width="0.9" fill="none"/>
<circle cx="274.17" cy="481" r="1.55" fill="#111"/>
<circle cx="278.32" cy="481" r="1.55" fill="#111"/>
<circle cx="282.47" cy="481" r="1.55" fill="#111"/>
<circle cx="286.62" cy="481" r="1.55" fill="#111"/>
<line x1="274.17" y1="481" x2="286.62" y2="481" stroke="#333" stroke-width="0.7"/>
<path d="M265.9 474.1V472.5H301.9V474.1" stroke="#4a4a4a" stroke-width="0.9" fill="none"/>
<circle cx="278.27" cy="462.7" r="1.55" fill="#111"/>
<circle cx="282.43" cy="462.7" r="1.55" fill="#111"/>
<circle cx="286.57" cy="462.7" r="1.55" fill="#111"/>
<circle cx="290.73" cy="462.7" r="1.55" fill="#111"/>
<line x1="278.27" y1="462.7" x2="290.73" y2="462.7" stroke="#333" stroke-width="0.7"/>
<path d="M312.8 482.1V480.5H323.7V482.1" stroke="#4a4a4a" stroke-width="0.9" fill="none"/>
<circle cx="312.27" cy="471.5" r="1.55" fill="#111"/>
<circle cx="316.43" cy="471.5" r="1.55" fill="#111"/>
<circle cx="320.57" cy="471.5" r="1.55" fill="#111"/>
<circle cx="324.73" cy="471.5" r="1.55" fill="#111"/>
<line x1="312.27" y1="471.5" x2="324.73" y2="471.5" stroke="#333" stroke-width="0.7"/>
<path d="M312.8 465.1V463.5H332.2V465.1" stroke="#4a4a4a" stroke-width="0.9" fill="none"/>
<circle cx="316.38" cy="453.5" r="1.55" fill="#111"/>
<circle cx="320.53" cy="453.5" r="1.55" fill="#111"/>
<circle cx="324.68" cy="453.5" r="1.55" fill="#111"/>
<circle cx="328.83" cy="453.5" r="1.55" fill="#111"/>
<line x1="316.38" y1="453.5" x2="328.83" y2="453.5" stroke="#333" stroke-width="0.7"/>
<path d="M312.8 446.1V444.5H340.4V446.1" stroke="#4a4a4a" stroke-width="0.9" fill="none"/>
<circle cx="321.07" cy="434.9" r="1.55" fill="#111"/>
<circle cx="325.23" cy="434.9" r="1.55" fill="#111"/>
<circle cx="329.38" cy="434.9" r="1.55" fill="#111"/>
<circle cx="333.53" cy="434.9" r="1.55" fill="#111"/>
<line x1="321.07" y1="434.9" x2="333.53" y2="434.9" stroke="#333" stroke-width="0.7"/>
<path d="M312.8 428.1V426.5H349.1V428.1" stroke="#4a4a4a" stroke-width="0.9" fill="none"/>
<circle cx="325.17" cy="416.9" r="1.55" fill="#111"/>
<circle cx="329.32" cy="416.9" r="1.55" fill="#111"/>
<circle cx="333.47" cy="416.9" r="1.55" fill="#111"/>
<circle cx="337.62" cy="416.9" r="1.55" fill="#111"/>
<line x1="325.17" y1="416.9" x2="337.62" y2="416.9" stroke="#333" stroke-width="0.7"/>
<path d="M359.5 491.1V489.5H370.1V491.1" stroke="#4a4a4a" stroke-width="0.9" fill="none"/>
<circle cx="358.67" cy="479.9" r="1.55" fill="#111"/>
<circle cx="362.82" cy="479.9" r="1.55" fill="#111"/>
<circle cx="366.97" cy="479.9" r="1.55" fill="#111"/>
<circle cx="371.12" cy="479.9" r="1.55" fill="#111"/>
<line x1="358.67" y1="479.9" x2="371.12" y2="479.9" stroke="#333" stroke-width="0.7"/>
<path d="M359.5 473.1V471.5H378.3V473.1" stroke="#4a4a4a" stroke-width="0.9" fill="none"/>
<circle cx="362.77" cy="462.2" r="1.55" fill="#111"/>
<circle cx="366.93" cy="462.2" r="1.55" fill="#111"/>
<circle cx="371.07" cy="462.2" r="1.55" fill="#111"/>
<circle cx="375.23" cy="462.2" r="1.55" fill="#111"/>
<line x1="362.77" y1="462.2" x2="375.23" y2="462.2" stroke="#333" stroke-width="0.7"/>
<path d="M359.5 455.1V453.5H386.7V455.1" stroke="#4a4a4a" stroke-width="0.9" fill="none"/>
<circle cx="366.88" cy="443.6" r="1.55" fill="#111"/>
<circle cx="371.03" cy="443.6" r="1.55" fill="#111"/>
<circle cx="375.18" cy="443.6" r="1.55" fill="#111"/>
<circle cx="379.33" cy="443.6" r="1.55" fill="#111"/>
<line x1="366.88" y1="443.6" x2="379.33" y2="443.6" stroke="#333" stroke-width="0.7"/>
<path d="M359.5 436.1V434.5H395.5V436.1" stroke="#4a4a4a" stroke-width="0.9" fill="none"/>
<circle cx="370.97" cy="425.9" r="1.55" fill="#111"/>
<circle cx="375.12" cy="425.9" r="1.55" fill="#111"/>
<circle cx="379.27" cy="425.9" r="1.55" fill="#111"/>
<circle cx="383.43" cy="425.9" r="1.55" fill="#111"/>
<line x1="370.97" y1="425.9" x2="383.43" y2="425.9" stroke="#333" stroke-width="0.7"/>
<rect x="450.95" y="473.75" width="19.9" height="8" fill="#c4d2ef" stroke="#7393c9" stroke-width="2.9"/>
<text x="486" y="483.7" font-size="16.8" letter-spacing="0.7">2.5</text>
<rect x="450.95" y="502.35" width="19.9" height="8" fill="#d6caef" stroke="#9a7ec8" stroke-width="2.9"/>
<text x="486" y="512.3" font-size="16.8" letter-spacing="0.7">3.5</text>
<rect x="450.95" y="530.95" width="19.9" height="8" fill="#f3cef3" stroke="#c974c9" stroke-width="2.9"/>
<text x="486" y="540.9" font-size="16.8" letter-spacing="0.7">4.5</text>
<rect x="450.95" y="559.55" width="19.9" height="8" fill="#ddedcd" stroke="#98c179" stroke-width="2.9"/>
<text x="486" y="569.5" font-size="16.8" letter-spacing="0.7">5.5</text>
<rect x="450.95" y="588.15" width="19.9" height="8" fill="#b9d5e5" stroke="#578ba6" stroke-width="2.9"/>
<text x="486" y="598.1" font-size="16.8" letter-spacing="0.7">7</text>
<text x="28.2" y="777.8" font-size="24" letter-spacing="1.4">C)</text>
<text transform="translate(23.6,927.4) rotate(-90)" text-anchor="middle" font-weight="bold" font-size="16.4">Surviving phage population</text>
<g transform="translate(43.6,927.4) rotate(-90)">
<text x="-55.3" y="0" font-weight="bold" font-size="16.4">log</text>
<path transform="translate(-30.71,3.61) scale(0.01181,-0.01181)" d="M401 0L401 716L288 716C270 668 236 622 184 578C135 537 88 508 42 490L42 363C128 395 199 437 262 490L262 0Z"/>
<text x="-24.14" y="3.61" font-weight="bold" font-size="11.81">0</text>
<text x="-17.58" y="0" font-weight="bold" font-size="16.4">(PFU/mL)</text>
</g>
<rect x="87.8" y="874.26" width="9.8" height="171.24" fill="#c4d2ef" stroke="#7393c9" stroke-width="3.0"/>
<path d="M92.7 871.68V873.84M89.7 871.68H95.7M89.7 873.84H95.7" stroke="#5b79b8" stroke-width="1" fill="none"/>
<rect x="107.6" y="874.9" width="9.8" height="170.6" fill="#d6caef" stroke="#9a7ec8" stroke-width="3.0"/>
<path d="M112.5 871.89V874.92M109.5 871.89H115.5M109.5 874.92H115.5" stroke="#7d5cb0" stroke-width="1" fill="none"/>
<rect x="139.52" y="870.58" width="9.8" height="174.92" fill="#c4d2ef" stroke="#7393c9" stroke-width="3.0"/>
<path d="M144.42 866.49V871.68M141.42 866.49H147.42M141.42 871.68H147.42" stroke="#5b79b8" stroke-width="1" fill="none"/>
<rect x="159.32" y="870.58" width="9.8" height="174.92" fill="#d6caef" stroke="#9a7ec8" stroke-width="3.0"/>
<path d="M164.22 866.27V871.89M161.22 866.27H167.22M161.22 871.89H167.22" stroke="#7d5cb0" stroke-width="1" fill="none"/>
<rect x="191.24" y="857.18" width="9.8" height="188.32" fill="#c4d2ef" stroke="#7393c9" stroke-width="3.0"/>
<path d="M196.14 846.38V864.97M193.14 846.38H199.14M193.14 864.97H199.14" stroke="#5b79b8" stroke-width="1" fill="none"/>
<rect x="211.04" y="856.31" width="9.8" height="189.19" fill="#d6caef" stroke="#9a7ec8" stroke-width="3.0"/>
<path d="M215.94 845.51V864.11M212.94 845.51H218.94M212.94 864.11H218.94" stroke="#7d5cb0" stroke-width="1" fill="none"/>
<rect x="242.96" y="889.17" width="9.8" height="156.33" fill="#c4d2ef" stroke="#7393c9" stroke-width="3.0"/>
<path d="M247.86 881.84V893.51M244.86 881.84H250.86M244.86 893.51H250.86" stroke="#5b79b8" stroke-width="1" fill="none"/>
<rect x="262.76" y="889.17" width="9.8" height="156.33" fill="#d6caef" stroke="#9a7ec8" stroke-width="3.0"/>
<path d="M267.66 881.19V894.16M264.66 881.19H270.66M264.66 894.16H270.66" stroke="#7d5cb0" stroke-width="1" fill="none"/>
<rect x="294.68" y="889.61" width="9.8" height="155.89" fill="#c4d2ef" stroke="#7393c9" stroke-width="3.0"/>
<path d="M299.58 882.27V893.94M296.58 882.27H302.58M296.58 893.94H302.58" stroke="#5b79b8" stroke-width="1" fill="none"/>
<rect x="314.48" y="891.34" width="9.8" height="154.16" fill="#d6caef" stroke="#9a7ec8" stroke-width="3.0"/>
<path d="M319.38 884.65V895.02M316.38 884.65H322.38M316.38 895.02H322.38" stroke="#7d5cb0" stroke-width="1" fill="none"/>
<rect x="346.4" y="832.31" width="9.8" height="213.19" fill="#c4d2ef" stroke="#7393c9" stroke-width="3.0"/>
<path d="M351.3 829.08V832.54M348.3 829.08H354.3M348.3 832.54H354.3" stroke="#5b79b8" stroke-width="1" fill="none"/>
<rect x="366.2" y="836.85" width="9.8" height="208.65" fill="#d6caef" stroke="#9a7ec8" stroke-width="3.0"/>
<path d="M371.1 831.25V839.46M368.1 831.25H374.1M368.1 839.46H374.1" stroke="#7d5cb0" stroke-width="1" fill="none"/>
<rect x="398.12" y="850.47" width="9.8" height="195.03" fill="#c4d2ef" stroke="#7393c9" stroke-width="3.0"/>
<path d="M403.02 844.43V853.51M400.02 844.43H406.02M400.02 853.51H406.02" stroke="#5b79b8" stroke-width="1" fill="none"/>
<rect x="417.92" y="851.12" width="9.8" height="194.38" fill="#d6caef" stroke="#9a7ec8" stroke-width="3.0"/>
<path d="M422.82 845.95V853.3M419.82 845.95H425.82M419.82 853.3H425.82" stroke="#7d5cb0" stroke-width="1" fill="none"/>
<line x1="79.7" y1="806.58" x2="79.7" y2="1045.5" stroke="#000" stroke-width="2.2"/>
<line x1="70" y1="1045.5" x2="436.6" y2="1045.5" stroke="#000" stroke-width="2.2"/>
<line x1="70" y1="1045.5" x2="79.7" y2="1045.5" stroke="#000" stroke-width="2.2"/>
<text x="57.56" y="1052.65" font-weight="bold" font-size="16.8">0</text>
<line x1="70" y1="1023.88" x2="79.7" y2="1023.88" stroke="#000" stroke-width="2.2"/>
<path transform="translate(57.56,1031.03) scale(0.01680,-0.01680)" d="M401 0L401 716L288 716C270 668 236 622 184 578C135 537 88 508 42 490L42 363C128 395 199 437 262 490L262 0Z"/>
<line x1="70" y1="1002.26" x2="79.7" y2="1002.26" stroke="#000" stroke-width="2.2"/>
<text x="57.56" y="1009.41" font-weight="bold" font-size="16.8">2</text>
<line x1="70" y1="980.64" x2="79.7" y2="980.64" stroke="#000" stroke-width="2.2"/>
<text x="57.56" y="987.79" font-weight="bold" font-size="16.8">3</text>
<line x1="70" y1="959.02" x2="79.7" y2="959.02" stroke="#000" stroke-width="2.2"/>
<text x="57.56" y="966.17" font-weight="bold" font-size="16.8">4</text>
<line x1="70" y1="937.4" x2="79.7" y2="937.4" stroke="#000" stroke-width="2.2"/>
<text x="57.56" y="944.55" font-weight="bold" font-size="16.8">5</text>
<line x1="70" y1="915.78" x2="79.7" y2="915.78" stroke="#000" stroke-width="2.2"/>
<text x="57.56" y="922.93" font-weight="bold" font-size="16.8">6</text>
<line x1="70" y1="894.16" x2="79.7" y2="894.16" stroke="#000" stroke-width="2.2"/>
<text x="57.56" y="901.31" font-weight="bold" font-size="16.8">7</text>
<line x1="70" y1="872.54" x2="79.7" y2="872.54" stroke="#000" stroke-width="2.2"/>
<text x="57.56" y="879.69" font-weight="bold" font-size="16.8">8</text>
<line x1="70" y1="850.92" x2="79.7" y2="850.92" stroke="#000" stroke-width="2.2"/>
<text x="57.56" y="858.07" font-weight="bold" font-size="16.8">9</text>
<line x1="70" y1="829.3" x2="79.7" y2="829.3" stroke="#000" stroke-width="2.2"/>
<path transform="translate(48.22,836.45) scale(0.01680,-0.01680)" d="M401 0L401 716L288 716C270 668 236 622 184 578C135 537 88 508 42 490L42 363C128 395 199 437 262 490L262 0Z"/>
<text x="57.56" y="836.45" font-weight="bold" font-size="16.8">0</text>
<line x1="70" y1="807.68" x2="79.7" y2="807.68" stroke="#000" stroke-width="2.2"/>
<path transform="translate(48.22,814.83) scale(0.01680,-0.01680)" d="M401 0L401 716L288 716C270 668 236 622 184 578C135 537 88 508 42 490L42 363C128 395 199 437 262 490L262 0Z"/>
<path transform="translate(57.56,814.83) scale(0.01680,-0.01680)" d="M401 0L401 716L288 716C270 668 236 622 184 578C135 537 88 508 42 490L42 363C128 395 199 437 262 490L262 0Z"/>
<line x1="102.3" y1="1045.5" x2="102.3" y2="1055.5" stroke="#000" stroke-width="2.2"/>
<g transform="translate(106.4,1070.1) rotate(-45)">
<text x="-52.02" y="0" font-weight="bold" font-size="15.1">ASO</text>
<path transform="translate(-19.3,0) scale(0.01510,-0.01510)" d="M401 0L401 716L288 716C270 668 236 622 184 578C135 537 88 508 42 490L42 363C128 395 199 437 262 490L262 0Z"/>
<text x="-10.9" y="0" font-weight="bold" font-size="15.1">A</text>
</g>
<line x1="154.02" y1="1045.5" x2="154.02" y2="1055.5" stroke="#000" stroke-width="2.2"/>
<g transform="translate(158.12,1070.1) rotate(-45)">
<text x="-51.19" y="0" font-weight="bold" font-size="15.1">ASO</text>
<path transform="translate(-18.47,0) scale(0.01510,-0.01510)" d="M401 0L401 716L288 716C270 668 236 622 184 578C135 537 88 508 42 490L42 363C128 395 199 437 262 490L262 0Z"/>
<text x="-10.07" y="0" font-weight="bold" font-size="15.1">B</text>
</g>
<line x1="205.74" y1="1045.5" x2="205.74" y2="1055.5" stroke="#000" stroke-width="2.2"/>
<text transform="translate(209.84,1070.1) rotate(-45)" text-anchor="end" font-weight="bold" font-size="15.1">ASO2A</text>
<line x1="257.46" y1="1045.5" x2="257.46" y2="1055.5" stroke="#000" stroke-width="2.2"/>
<text transform="translate(261.56,1070.1) rotate(-45)" text-anchor="end" font-weight="bold" font-size="15.1">ASO2B</text>
<line x1="309.18" y1="1045.5" x2="309.18" y2="1055.5" stroke="#000" stroke-width="2.2"/>
<text transform="translate(313.28,1070.1) rotate(-45)" text-anchor="end" font-weight="bold" font-size="15.1">ASO78A</text>
<line x1="360.9" y1="1045.5" x2="360.9" y2="1055.5" stroke="#000" stroke-width="2.2"/>
<text transform="translate(365,1070.1) rotate(-45)" text-anchor="end" font-weight="bold" font-size="15.1">ASO78B</text>
<line x1="412.62" y1="1045.5" x2="412.62" y2="1055.5" stroke="#000" stroke-width="2.2"/>
<text transform="translate(416.72,1070.1) rotate(-45)" text-anchor="end" font-weight="bold" font-size="15.1">AVIO78A</text>
<rect x="492.15" y="819.95" width="21.2" height="9.1" fill="#c4d2ef" stroke="#7393c9" stroke-width="3.5"/>
<text x="530.3" y="831.1" font-size="19.3" letter-spacing="0.7">7</text>
<rect x="492.15" y="851.95" width="21.2" height="9.1" fill="#d6caef" stroke="#9a7ec8" stroke-width="3.5"/>
<text x="530.3" y="863.1" font-size="19.3" letter-spacing="0.7">9</text>
</svg>
</body></html>
